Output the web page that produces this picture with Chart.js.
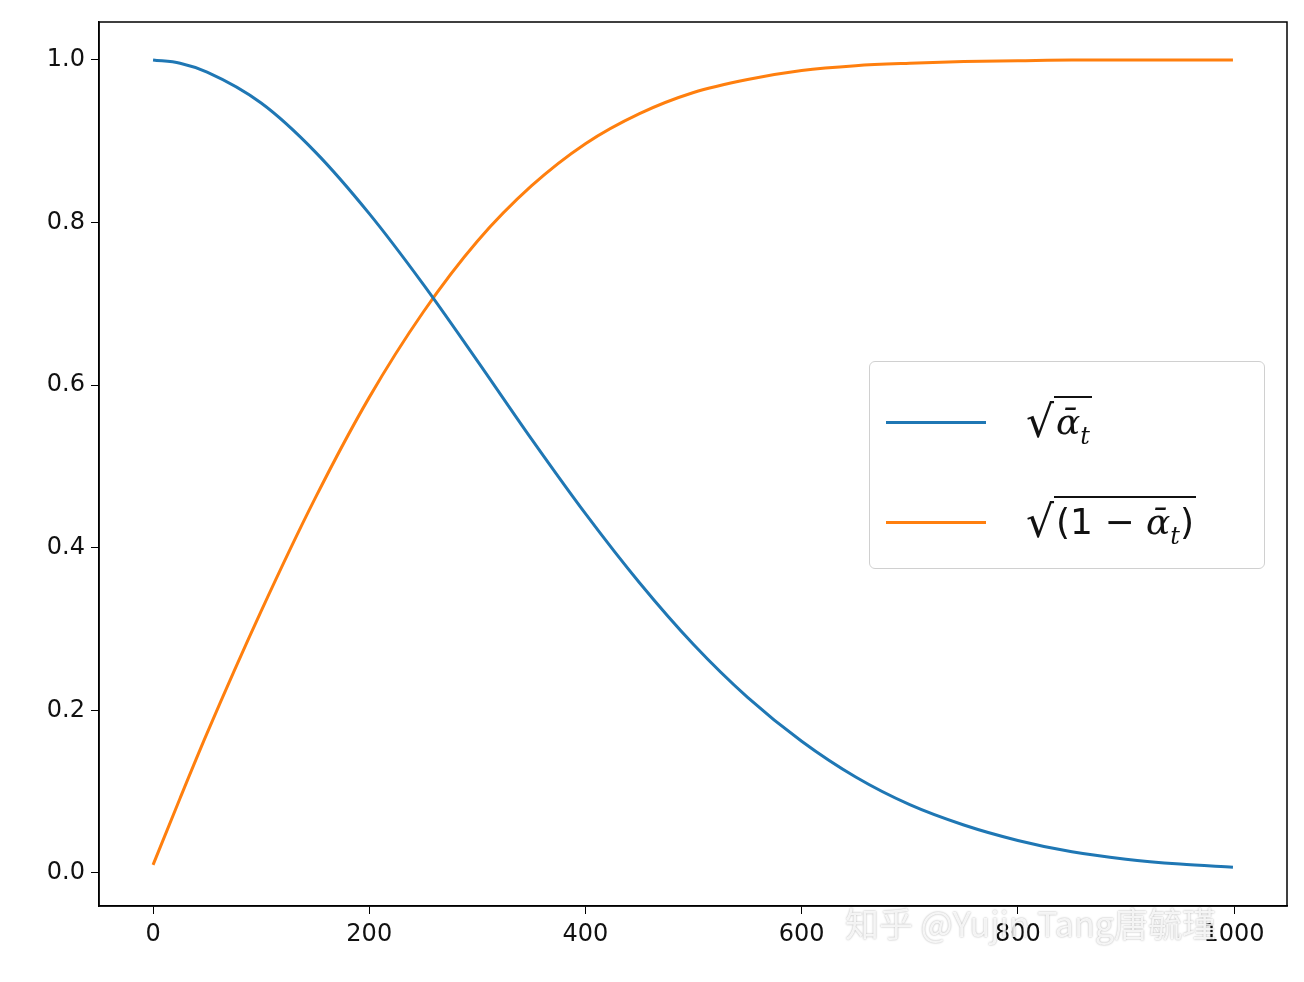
<!DOCTYPE html>
<html>
<head>
<meta charset="utf-8">
<script src="https://cdn.jsdelivr.net/npm/chart.js@4"></script>
<style>
body { margin: 0; background: #fff; }
#wrap { position: relative; width: 1304px; height: 982px; }
#legend { position: absolute; left: 869px; top: 361px; width: 394px; height: 206px; border: 1.5px solid #d0d0d0; border-radius: 6px; background: rgba(255,255,255,0.8); font-family: "DejaVu Sans", sans-serif; font-size: 36px; color: #111; }
.item { position: absolute; left: 16px; display: flex; align-items: center; height: 60px; }
.sw { width: 100px; height: 3px; margin-right: 40px; }
.rad { font-size: 44px; line-height: 44px; }
.ov { border-top: 2px solid #111; padding: 2px 2px 0 2px; line-height: 44px; }
i { font-family: "DejaVu Serif", serif; }
.sub { font-size: 24px; position: relative; top: 10px; font-style: italic; font-family: "DejaVu Serif", serif; }
#mark { position: absolute; left: 845px; top: 898px; font-family: "Noto Sans CJK SC", sans-serif; font-size: 34px; color: rgba(255,255,255,0.85); text-shadow: 0 0 2px rgba(0,0,0,0.35); }
</style>
</head>
<body>
<div id="wrap">
<canvas id="c" width="1304" height="982"></canvas>
<div id="legend">
  <div class="item" style="top:30px"><div class="sw" style="background:#1f77b4"></div><span class="rad">√</span><span class="ov"><i>ᾱ</i><span class="sub">t</span></span></div>
  <div class="item" style="top:130px"><div class="sw" style="background:#ff7f0e"></div><span class="rad">√</span><span class="ov">(1 − <i>ᾱ</i><span class="sub">t</span>)</span></div>
</div>
<div id="mark">知乎 @Yujin Tang唐毓瑾</div>
</div>
<script>
var steps = [0, 25, 50, 100, 150, 200, 250, 300, 350, 400, 450, 500, 550, 600, 650, 700, 750, 800, 850, 900, 950, 999];
var sqrtAlphaBar = [1.0, 0.996, 0.985, 0.947, 0.887, 0.811, 0.724, 0.630, 0.534, 0.442, 0.357, 0.281, 0.216, 0.162, 0.118, 0.084, 0.059, 0.040, 0.026, 0.017, 0.011, 0.007];
var sqrtOneMinus = [0.01, 0.092, 0.172, 0.322, 0.461, 0.585, 0.690, 0.777, 0.845, 0.897, 0.934, 0.960, 0.976, 0.987, 0.993, 0.996, 0.998, 0.999, 1.0, 1.0, 1.0, 1.0];
var xTicks = [0, 200, 400, 600, 800, 1000];
var yTicks = [0, 0.2, 0.4, 0.6, 0.8, 1.0];

function pts(ys) { return steps.map(function (s, i) { return { x: s, y: ys[i] }; }); }

var frame = {
    id: 'frame',
    afterDraw: function (chart) {
        var a = chart.chartArea, ctx = chart.ctx;
        ctx.save();
        ctx.strokeStyle = '#000';
        ctx.lineWidth = 1.5;
        ctx.strokeRect(a.left, a.top, a.right - a.left, a.bottom - a.top);
        ctx.restore();
    }
};

var tickFont = { family: 'DejaVu Sans', size: 24 };
new Chart(document.getElementById('c').getContext('2d'), {
    type: 'line',
    data: {
        datasets: [
            { data: pts(sqrtAlphaBar), borderColor: '#1f77b4', borderWidth: 3, pointRadius: 0, cubicInterpolationMode: 'monotone' },
            { data: pts(sqrtOneMinus), borderColor: '#ff7f0e', borderWidth: 3, pointRadius: 0, cubicInterpolationMode: 'monotone' }
        ]
    },
    options: {
        responsive: false,
        animation: false,
        layout: { padding: { top: 22, right: 17, left: 0, bottom: 0 } },
        plugins: { legend: { display: false }, tooltip: { enabled: false } },
        scales: {
            x: {
                type: 'linear', min: -50, max: 1049,
                afterBuildTicks: function (s) { s.ticks = xTicks.map(function (v) { return { value: v }; }); },
                afterFit: function (s) { s.height = 76; },
                grid: { drawOnChartArea: false, drawTicks: true, tickLength: 8, color: '#000' },
                border: { color: '#000', width: 1.5 },
                ticks: { font: tickFont, color: '#111', maxRotation: 0, padding: 6, callback: function (v) { return String(v); } }
            },
            y: {
                min: -0.0406, max: 1.0467,
                afterBuildTicks: function (s) { s.ticks = yTicks.map(function (v) { return { value: v }; }); },
                afterFit: function (s) { s.width = 99; },
                grid: { drawOnChartArea: false, drawTicks: true, tickLength: 8, color: '#000' },
                border: { color: '#000', width: 1.5 },
                ticks: { font: tickFont, color: '#111', padding: 6, callback: function (v) { return v.toFixed(1); } }
            }
        }
    },
    plugins: [frame]
});
</script>
</body>
</html>
